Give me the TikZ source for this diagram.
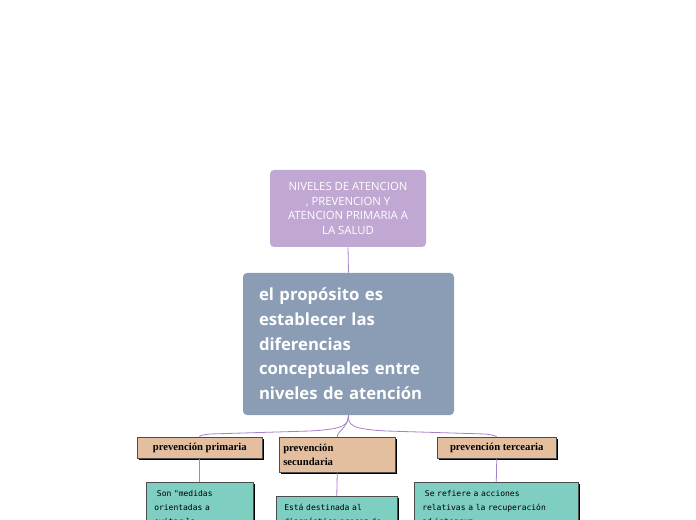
\documentclass[tikz,border=0pt]{standalone}
\usepackage{fontspec}
\setmainfont{Liberation Serif}
\setsansfont{Open Sans}
\setmonofont{DejaVu Sans Mono}
\begin{document}
\begin{tikzpicture}[x=0.75pt,y=-0.75pt,
  title/.style={fill=titlec,rounded corners=3pt,text=white,font=\sffamily\fontsize{8.5}{11}\selectfont,align=center,inner sep=0pt},
  mainbox/.style={fill=mainc,rounded corners=3pt,text=white,font=\sffamily\bfseries\fontsize{12.5}{18.5}\selectfont,align=left,inner sep=0pt},
  tan/.style={fill=tanc,draw=black!70,line width=0.4pt,drop shadow={shadow xshift=1.5pt,shadow yshift=-1.5pt,fill=black,opacity=1},font=\bfseries\fontsize{8}{10.5}\selectfont,align=left,anchor=north west,inner sep=3pt},
  teal/.style={fill=tealc,draw=black!70,line width=0.4pt,drop shadow={shadow xshift=1.5pt,shadow yshift=-1.5pt,fill=black,opacity=1},font=\ttfamily\fontsize{6}{10.5}\selectfont,align=left,anchor=north west,inner xsep=6pt,inner ysep=6pt},
  link/.style={draw=linkc,line width=0.6pt}]
\usetikzlibrary{shadows}
\definecolor{titlec}{HTML}{C1A8D3}
\definecolor{mainc}{HTML}{8B9DB5}
\definecolor{tanc}{HTML}{E3BFA0}
\definecolor{tealc}{HTML}{7ECEC1}
\definecolor{linkc}{HTML}{A680C8}
\clip (0,0) rectangle (696,520);
\fill[white] (0,0) rectangle (696,520);
\node[title,minimum width=156*0.75pt,minimum height=77*0.75pt] (t) at (348,208.5) {NIVELES DE ATENCION\\, PREVENCION Y\\ATENCION PRIMARIA A\\LA SALUD};
\node[mainbox,minimum width=211*0.75pt,minimum height=142*0.75pt,text width=211*0.75pt-24pt] (m) at (348.5,344) {el propósito es\\establecer las\\diferencias\\conceptuales entre\\niveles de atención};
\node[tan,minimum width=125*0.75pt,minimum height=21*0.75pt] (p1) at (137,437) {prevención primaria};
\node[tan,minimum width=116*0.75pt,minimum height=35*0.75pt,text width=116*0.75pt-6pt] (p2) at (279,437) {prevención\\secundaria};
\node[tan,minimum width=119*0.75pt,minimum height=21*0.75pt] (p3) at (437,437) {prevención tercearia};
\node[teal,minimum width=107*0.75pt,text width=107*0.75pt-12pt] (d1) at (146,482) {\ Son "medidas\\orientadas a\\evitar la\\aparición de una\\enfermedad};
\node[teal,minimum width=121*0.75pt,text width=121*0.75pt-12pt] (d2) at (276,496) {Está destinada al\\diagnóstico precoz de\\la enfermedad};
\node[teal,minimum width=164*0.75pt,text width=164*0.75pt-12pt] (d3) at (414,482) {\ Se refiere a acciones\\relativas a la recuperación\\ad integrum};
\draw[link] (t.south) -- (m.north);
\draw[link] (m.south) .. controls (348,425) and (345,429) .. (310,431) -- (210,434) .. controls (201,435) and (199,436) .. (p1.north);
\draw[link] (m.south) .. controls (348,428) and (337,431) .. (p2.north);
\draw[link] (m.south) .. controls (348,425) and (351,429) .. (386,431) -- (485,434) .. controls (494,435) and (496,436) .. (p3.north);
\draw[link] (p1.south) -- (d1.north);
\draw[link] (p2.south) -- (d2.north);
\draw[link] (p3.south) -- (d3.north);
\end{tikzpicture}
\end{document}
